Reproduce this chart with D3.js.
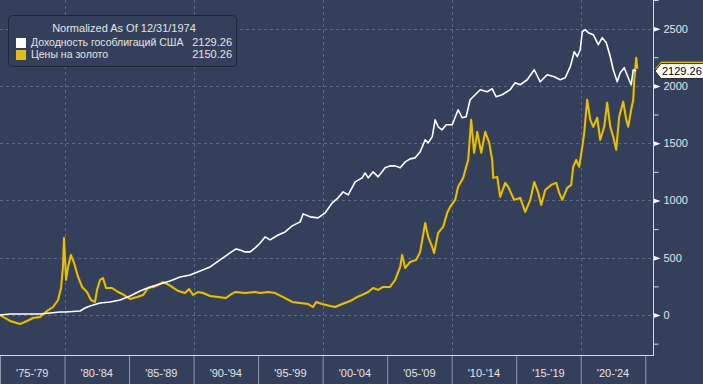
<!DOCTYPE html>
<html>
<head>
<meta charset="utf-8">
<script src="https://cdn.jsdelivr.net/npm/d3@7"></script>
<style>
  html, body { margin: 0; padding: 0; background: #34405b; }
  svg { display: block; font-family: "Liberation Sans", Arial, sans-serif; }
</style>
</head>
<body>
<div id="chart"></div>
<script>
// =====================================================================
// Data, [decimal year, normalized value]
// =====================================================================
const treasury = [
  [1975.00, 0], [1975.78, 9], [1976.55, 9], [1977.33, 9], [1978.10, 9], [1978.88, 17],
  [1979.65, 26], [1980.04, 26], [1981.20, 35], [1981.59, 61], [1981.98, 79], [1982.75, 105],
  [1983.53, 114], [1984.30, 131], [1985.08, 166], [1985.85, 210], [1986.63, 245], [1987.40, 271],
  [1988.18, 297], [1988.95, 332], [1989.73, 350], [1990.50, 385], [1991.28, 420], [1992.05, 481],
  [1992.83, 542], [1993.29, 577], [1993.60, 568], [1993.99, 551], [1994.38, 551], [1994.77, 586],
  [1995.16, 629], [1995.54, 682], [1995.93, 656], [1996.55, 699], [1997.09, 725], [1997.64, 778],
  [1998.26, 813], [1998.49, 883], [1999.03, 857], [1999.65, 848], [2000.19, 891], [2000.74, 979],
  [2001.20, 1023], [2001.59, 1075], [2001.98, 1049], [2002.52, 1162], [2003.06, 1197], [2003.29, 1241],
  [2003.53, 1197], [2003.91, 1250], [2004.30, 1206], [2004.84, 1285], [2005.23, 1302], [2005.62, 1302],
  [2006.01, 1285], [2006.40, 1337], [2006.78, 1363], [2007.17, 1372], [2007.56, 1425], [2007.95, 1530],
  [2008.18, 1503], [2008.49, 1556], [2008.72, 1704], [2008.95, 1643], [2009.26, 1617], [2009.57, 1661],
  [2010.04, 1661], [2010.50, 1792], [2010.81, 1722], [2011.12, 1731], [2011.43, 1879], [2011.82, 1923],
  [2012.21, 1967], [2012.75, 1949], [2013.14, 1975], [2013.45, 1905], [2013.91, 1923], [2014.53, 1967],
  [2014.92, 2028], [2015.31, 2010], [2015.85, 2054], [2016.40, 2141], [2016.86, 2036], [2017.40, 2098],
  [2017.95, 2080], [2018.41, 2054], [2018.80, 2071], [2019.19, 2168], [2019.50, 2299], [2019.73, 2255],
  [2019.96, 2316], [2020.12, 2473], [2020.35, 2491], [2020.58, 2465], [2020.97, 2447], [2021.36, 2360],
  [2021.67, 2421], [2021.98, 2377], [2022.29, 2255], [2022.52, 2141], [2022.83, 2036], [2023.06, 2115],
  [2023.37, 2159], [2023.68, 2071], [2023.91, 2010], [2024.07, 2141], [2024.30, 2129.26]
];

const gold = [
  [1975.00, 0], [1975.39, -26], [1975.78, -52], [1976.55, -79], [1977.09, -52], [1977.56, -26],
  [1978.10, -17], [1978.64, 35], [1979.11, 70], [1979.50, 131], [1979.73, 236], [1979.88, 420],
  [1979.96, 673], [1980.12, 306], [1980.27, 420], [1980.50, 524], [1980.74, 454], [1981.05, 332],
  [1981.36, 245], [1981.74, 201], [1982.05, 131], [1982.36, 114], [1982.52, 219], [1982.75, 306],
  [1982.98, 323], [1983.22, 236], [1983.68, 236], [1984.15, 201], [1984.61, 175], [1985.08, 140],
  [1985.62, 157], [1986.09, 175], [1986.47, 236], [1986.86, 245], [1987.25, 262], [1987.64, 288],
  [1987.95, 271], [1988.33, 245], [1988.80, 210], [1989.34, 192], [1989.65, 227], [1989.96, 175],
  [1990.35, 201], [1990.74, 192], [1991.28, 166], [1991.90, 157], [1992.52, 149], [1992.83, 175],
  [1993.22, 201], [1993.99, 192], [1994.77, 201], [1995.16, 192], [1995.78, 201], [1996.32, 192],
  [1996.94, 157], [1997.64, 114], [1998.26, 105], [1998.88, 96], [1999.26, 70], [1999.50, 114],
  [1999.96, 96], [2000.58, 79], [2000.97, 70], [2001.51, 96], [2002.13, 122], [2002.67, 157],
  [2003.06, 175], [2003.53, 201], [2003.91, 236], [2004.30, 219], [2004.69, 245], [2005.23, 245],
  [2005.62, 306], [2006.01, 420], [2006.16, 524], [2006.40, 411], [2006.78, 463], [2007.25, 481],
  [2007.56, 551], [2007.95, 804], [2008.18, 682], [2008.49, 594], [2008.64, 542], [2008.95, 717],
  [2009.34, 769], [2009.65, 891], [2009.88, 944], [2010.27, 1005], [2010.50, 1119], [2010.89, 1197],
  [2011.28, 1355], [2011.51, 1704], [2011.74, 1416], [2011.98, 1599], [2012.29, 1416], [2012.60, 1599],
  [2012.91, 1503], [2013.14, 1355], [2013.22, 1197], [2013.53, 1206], [2013.76, 1031], [2014.15, 1154],
  [2014.38, 1119], [2014.84, 1005], [2015.31, 1023], [2015.70, 900], [2016.09, 1005], [2016.40, 1162],
  [2016.71, 1066], [2016.94, 961], [2017.25, 1092], [2017.71, 1136], [2018.10, 1154], [2018.33, 1066],
  [2018.57, 1005], [2018.95, 1110], [2019.26, 1136], [2019.42, 1294], [2019.65, 1355], [2019.88, 1294],
  [2020.12, 1468], [2020.27, 1591], [2020.50, 1879], [2020.74, 1704], [2020.97, 1643], [2021.28, 1722],
  [2021.51, 1530], [2021.82, 1643], [2022.05, 1853], [2022.29, 1643], [2022.52, 1556], [2022.75, 1442],
  [2022.98, 1731], [2023.29, 1862], [2023.53, 1704], [2023.68, 1643], [2023.91, 1792], [2024.07, 1879],
  [2024.15, 2054], [2024.30, 2246], [2024.38, 2150.26]
];

const seriesNames = ['Доходность гособлигаций США', 'Цены на золото'];
const lastValues = ['2129.26', '2150.26'];
const legendTitle = 'Normalized As Of 12/31/1974';

const bandStarts = [1975, 1980, 1985, 1990, 1995, 2000, 2005, 2010, 2015, 2020];
const bandLabels = ["'75-'79", "'80-'84", "'85-'89", "'90-'94", "'95-'99",
                    "'00-'04", "'05-'09", "'10-'14", "'15-'19", "'20-'24"];
const gridYears = [1980, 1990, 2000, 2010, 2020];
const majorTicks = [0, 500, 1000, 1500, 2000, 2500];
const minorTicks = [-250, 250, 750, 1250, 1750, 2250, 2750];

// =====================================================================
// Layout
// =====================================================================
const W = 703, H = 384;
const plotRight = 653, plotBottom = 355;

const BG = '#34405b';
const GRID = '#5c6a89';
const AXIS = '#d8d8d8';
const TEXT = '#e4e4e4';
const GOLD = '#e2be1c';

const svg = d3.select('#chart').append('svg')
  .attr('width', W).attr('height', H);

svg.append('rect').attr('width', W).attr('height', H).attr('fill', BG);

const x = d3.scaleLinear().domain([1975, 2025.6]).range([0, plotRight]);
const y = d3.scaleLinear().domain([-349, 2750]).range([plotBottom, 0]);

// =====================================================================
// Grid
// =====================================================================
svg.append('g').selectAll('line.h').data(majorTicks).join('line')
  .attr('x1', 0).attr('x2', plotRight)
  .attr('y1', d => Math.round(y(d)) + 0.5).attr('y2', d => Math.round(y(d)) + 0.5)
  .attr('stroke', GRID).attr('stroke-dasharray', '3,3');

svg.append('g').selectAll('line.v').data(gridYears).join('line')
  .attr('x1', d => Math.round(x(d)) + 0.5).attr('x2', d => Math.round(x(d)) + 0.5)
  .attr('y1', 0).attr('y2', plotBottom)
  .attr('stroke', GRID).attr('stroke-dasharray', '3,3');

// =====================================================================
// Lines
// =====================================================================
const line = d3.line().x(d => x(d[0])).y(d => y(d[1]));

svg.append('path').datum(gold).attr('d', line)
  .attr('fill', 'none').attr('stroke', '#4f4a22').attr('stroke-width', 3.4)
  .attr('stroke-linejoin', 'round');
svg.append('path').datum(gold).attr('d', line)
  .attr('fill', 'none').attr('stroke', GOLD).attr('stroke-width', 2)
  .attr('stroke-linejoin', 'round');

svg.append('path').datum(treasury).attr('d', line)
  .attr('fill', 'none').attr('stroke', '#ffffff').attr('stroke-width', 1.6)
  .attr('stroke-linejoin', 'round');

// =====================================================================
// Axes
// =====================================================================
// bottom: band separators + centred labels
const xAxis = svg.append('g').attr('transform', `translate(0,${plotBottom})`)
  .call(d3.axisBottom(x).tickValues(bandStarts.concat([2025])).tickSize(29).tickFormat(''));
xAxis.select('.domain').remove();
xAxis.selectAll('.tick line').attr('stroke', '#8f98ab');

svg.append('g').selectAll('text').data(bandStarts).join('text')
  .attr('x', (d, i) => x(d + 2.5))
  .attr('y', 374)
  .attr('text-anchor', 'middle').attr('dominant-baseline', 'middle')
  .attr('fill', TEXT).attr('font-size', 11)
  .text((d, i) => bandLabels[i]);

svg.append('line')
  .attr('x1', 0).attr('x2', plotRight + 0.5)
  .attr('y1', plotBottom + 0.5).attr('y2', plotBottom + 0.5)
  .attr('stroke', AXIS);

// right: minor ticks, triangle markers, labels
const yMinor = svg.append('g').attr('transform', `translate(${plotRight + 0.5},0)`)
  .call(d3.axisRight(y).tickValues(minorTicks).tickSize(5).tickFormat(''));
yMinor.select('.domain').remove();
yMinor.selectAll('.tick line').attr('stroke', AXIS);

const yMajor = svg.append('g').attr('transform', `translate(${plotRight + 0.5},0)`)
  .call(d3.axisRight(y).tickValues(majorTicks).tickSize(0).tickPadding(10)
    .tickFormat(d3.format('d')));
yMajor.select('.domain').remove();
yMajor.selectAll('.tick text')
  .attr('fill', TEXT).attr('font-size', 11)
  .attr('font-family', '"Liberation Sans", Arial, sans-serif');
yMajor.selectAll('.tick').append('path')
  .attr('d', 'M0,-2.5L7,0L0,2.5Z').attr('fill', '#ffffff');

svg.append('line')
  .attr('x1', plotRight + 0.5).attr('x2', plotRight + 0.5)
  .attr('y1', 0).attr('y2', plotBottom + 1)
  .attr('stroke', AXIS);

// last value flags: gold one sits just behind the treasury one
function flag(val, fill, stroke, label) {
  const g = svg.append('g').attr('transform', `translate(${plotRight + 2},${y(val)})`);
  g.append('path')
    .attr('d', 'M0,0L6,-7.5L49,-7.5L49,7.5L6,7.5Z')
    .attr('fill', fill).attr('stroke', stroke).attr('stroke-width', 1);
  if (label) {
    g.append('text').attr('x', 7).attr('y', 0.5)
      .attr('dominant-baseline', 'middle')
      .attr('font-size', 11).attr('fill', '#000')
      .text(label);
  }
}
flag(+lastValues[1], GOLD, '#5a5020', null);
flag(+lastValues[0], '#ffffff', '#222222', lastValues[0]);

// =====================================================================
// Legend
// =====================================================================
const legend = svg.append('g');
legend.append('rect')
  .attr('x', 8.5).attr('y', 15.5).attr('width', 228).attr('height', 51).attr('rx', 4)
  .attr('fill', BG).attr('stroke', '#1d2436');
legend.append('text').attr('x', 124).attr('y', 29)
  .attr('text-anchor', 'middle').attr('dominant-baseline', 'middle')
  .attr('fill', TEXT).attr('font-size', 11).text(legendTitle);

const swatches = ['#ffffff', GOLD];
seriesNames.forEach((name, i) => {
  const cy = 43 + i * 12;
  legend.append('rect').attr('x', 16).attr('y', cy - 5).attr('width', 10).attr('height', 10)
    .attr('fill', swatches[i]);
  legend.append('text').attr('x', 31).attr('y', cy)
    .attr('dominant-baseline', 'middle').attr('fill', TEXT).attr('font-size', 10.5).text(name);
  legend.append('text').attr('x', 232).attr('y', cy)
    .attr('text-anchor', 'end').attr('dominant-baseline', 'middle')
    .attr('fill', TEXT).attr('font-size', 11).text(lastValues[i]);
});
</script>
</body>
</html>
